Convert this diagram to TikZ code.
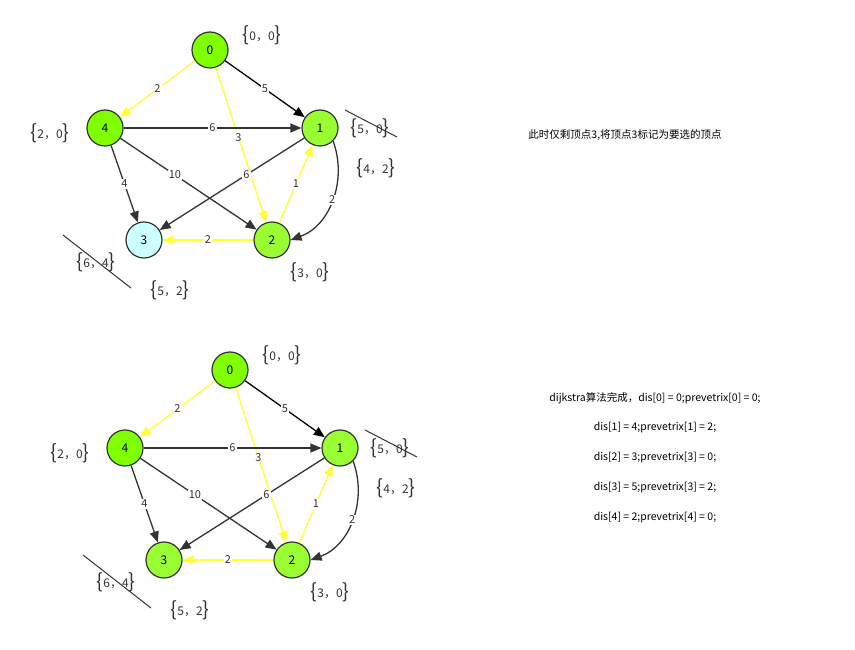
\documentclass[tikz,border=0pt]{standalone}
\usepackage{fontspec}
\setmainfont{Noto Sans CJK SC}
\usetikzlibrary{arrows.meta}
\definecolor{gA}{HTML}{80FF00}
\definecolor{gB}{HTML}{99FF33}
\definecolor{cy}{HTML}{CCFFFF}
\definecolor{yl}{HTML}{FFFF33}
\definecolor{dk}{HTML}{333333}
\tikzset{
 vtx/.style={circle,draw=dk,line width=1.2pt,minimum size=36pt,inner sep=0pt,font=\fontsize{12}{14}\selectfont},
 ed/.style={draw=dk,line width=1.3pt,-{Triangle[length=11pt,width=9pt]}},
 ye/.style={ed,draw=yl,-{Triangle[length=11pt,width=9pt,fill=yl]}},
 wl/.style={fill=white,inner sep=1pt,font=\fontsize{11}{13}\selectfont,text=dk},
 pair/.style={font=\fontsize{12}{14}\selectfont,text=dk},
 txt/.style={font=\fontsize{10.5}{13}\selectfont,text=black},
 strike/.style={draw=dk,line width=1pt}
}
\newcommand{\pr}[2]{{\fontsize{20}{20}\selectfont\{}\raisebox{1pt}{#1，#2}{\fontsize{20}{20}\selectfont\}}}
\newcommand{\graphpart}[2]{%
\begin{scope}[shift={(#1)}]
\node[vtx,fill=gA] (n0#2) at (210,50) {0};
\node[vtx,fill=gA] (n4#2) at (105,128) {4};
\node[vtx,fill=gB] (n1#2) at (320,128) {1};
\node[vtx,fill=gB] (n2#2) at (272,240) {2};
\draw[ye] (n0#2) -- node[wl]{2} (n4#2);
\draw[ed,draw=black] (n0#2) -- node[wl]{5} (n1#2);
\draw[ye] (n0#2) -- node[wl,pos=0.45]{3} (n2#2);
\draw[ed] (n4#2) -- node[wl]{6} (n1#2);
\draw[ed] (n4#2) -- node[wl]{4} (n3#2);
\draw[ed] (n4#2) -- node[wl,pos=0.4]{10} (n2#2);
\draw[ed] (n1#2) -- node[wl,pos=0.4]{6} (n3#2);
\draw[ye] (n2#2) -- node[wl]{1} (n1#2);
\draw[ed] (n1#2.south east) to[out=-70,in=20] node[wl]{2} (n2#2.east);
\draw[ye] (n2#2) -- node[wl]{2} (n3#2);
\node[pair] (a0#2) at (262,35) {\pr{0}{0}};
\node[pair] (a4#2) at (50,133) {\pr{2}{0}};
\node[pair] (a1#2) at (370,128) {\pr{5}{0}};
\node[pair] (b1#2) at (376,168) {\pr{4}{2}};
\node[pair] (a2#2) at (310,272) {\pr{3}{0}};
\node[pair] (a3#2) at (96,262) {\pr{6}{4}};
\node[pair] (b3#2) at (170,290) {\pr{5}{2}};
\coordinate (s1a#2) at (345,110); \coordinate (s1b#2) at (397,137);
\coordinate (s3a#2) at (63,235); \coordinate (s3b#2) at (131,288);
\draw[strike] (s1a#2) -- (s1b#2);
\draw[strike] (s3a#2) -- (s3b#2);
\end{scope}}
\begin{document}
\begin{tikzpicture}[x=1pt,y=-1pt]
\useasboundingbox (0,0) rectangle (855,650);
\node[vtx,fill=cy] (n3t) at (144,240) {3};
\graphpart{0,0}{t}
\node[txt] (t1) at (625,135) {此时仅剩顶点3,将顶点3标记为要选的顶点};
\node[vtx,fill=gB] (n3b) at (164,560) {3};
\graphpart{20,320}{b}
\node[txt] (l1) at (655,398) {dijkstra算法完成，dis[0] = 0;prevetrix[0] = 0;};
\node[txt] (l2) at (655,428) {dis[1] = 4;prevetrix[1] = 2;};
\node[txt] (l3) at (655,458) {dis[2] = 3;prevetrix[3] = 0;};
\node[txt] (l4) at (655,488) {dis[3] = 5;prevetrix[3] = 2;};
\node[txt] (l5) at (655,518) {dis[4] = 2;prevetrix[4] = 0;};
\end{tikzpicture}
\end{document}
